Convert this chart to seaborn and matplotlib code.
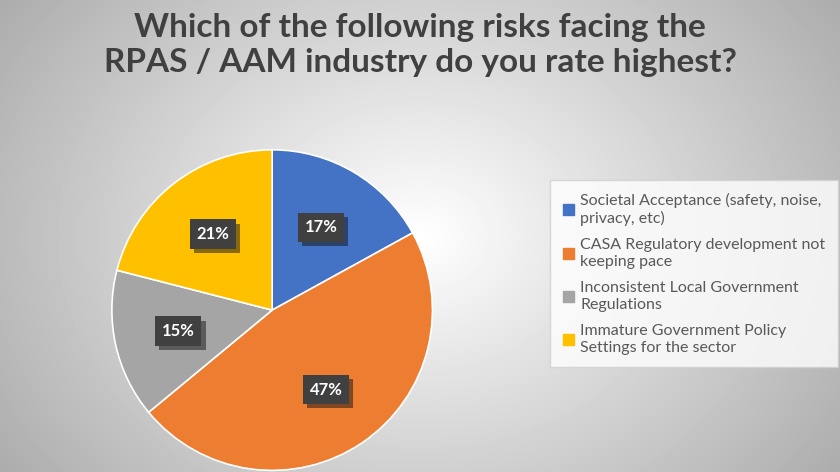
import numpy as np
import matplotlib
matplotlib.use("Agg")
import matplotlib.pyplot as plt
import matplotlib.patheffects as pe
import seaborn as sns

categories = ["Societal Acceptance (safety, noise,\nprivacy, etc)",
              "CASA Regulatory development not\nkeeping pace",
              "Inconsistent Local Government\nRegulations",
              "Immature Government Policy\nSettings for the sector"]
values = [17, 47, 15, 21]
labels = ["17%", "47%", "15%", "21%"]
colors = sns.color_palette(["#4472C4", "#ED7D31", "#A5A5A5", "#FFC000"])

sns.set_theme(style="white")
fig = plt.figure(figsize=(8.4, 4.72), dpi=100)

# radial gradient background
bg = fig.add_axes([0, 0, 1, 1], zorder=0)
yy, xx = np.mgrid[0:472, 0:840]
r = np.sqrt(((xx - 420) / 520) ** 2 + ((yy - 236) / 420) ** 2)
bg.imshow(np.clip(1 - 0.33 * r, 0, 1), cmap="gray", vmin=0, vmax=1, aspect="auto")
bg.axis("off")

ax = fig.add_axes([0.131, 0.0, 0.386, 0.686], zorder=1)
wedges, _ = ax.pie(values, colors=colors, startangle=90, counterclock=False,
                   wedgeprops=dict(edgecolor="white", linewidth=1.2))
ax.set_xlim(-1.01, 1.01)
ax.set_ylim(-1.01, 1.01)
ax.set_aspect("equal")
for w, lab in zip(wedges, labels):
    ang = np.deg2rad((w.theta1 + w.theta2) / 2)
    ax.text(0.6 * np.cos(ang), 0.6 * np.sin(ang), lab, ha="center", va="center",
            color="white", fontsize=12, fontweight="bold", family="Lato",
            bbox=dict(boxstyle="square,pad=0.4", fc="#404040", ec="none",
                      path_effects=[pe.withSimplePatchShadow(offset=(3, -3), alpha=0.5)]))

fig.text(0.5, 0.905, "Which of the following risks facing the\nRPAS / AAM industry do you rate highest?",
         ha="center", va="center", fontsize=24, fontweight="bold", color="#404040",
         family="Lato", linespacing=1.25)

handles = [plt.Rectangle((0, 0), 1, 1, color=c) for c in colors]
leg = fig.legend(handles, categories, loc="upper left", bbox_to_anchor=(0.645, 0.635),
                 frameon=True, fancybox=False, fontsize=11.5, handlelength=0.7,
                 handleheight=0.7, labelspacing=0.8, borderpad=0.8, handletextpad=0.4)
leg.get_frame().set_facecolor("white")
leg.get_frame().set_edgecolor("#D0D0D0")
for t in leg.get_texts():
    t.set_color("#595959")
    t.set_family("Lato")

fig.savefig("out.png", dpi=100)
